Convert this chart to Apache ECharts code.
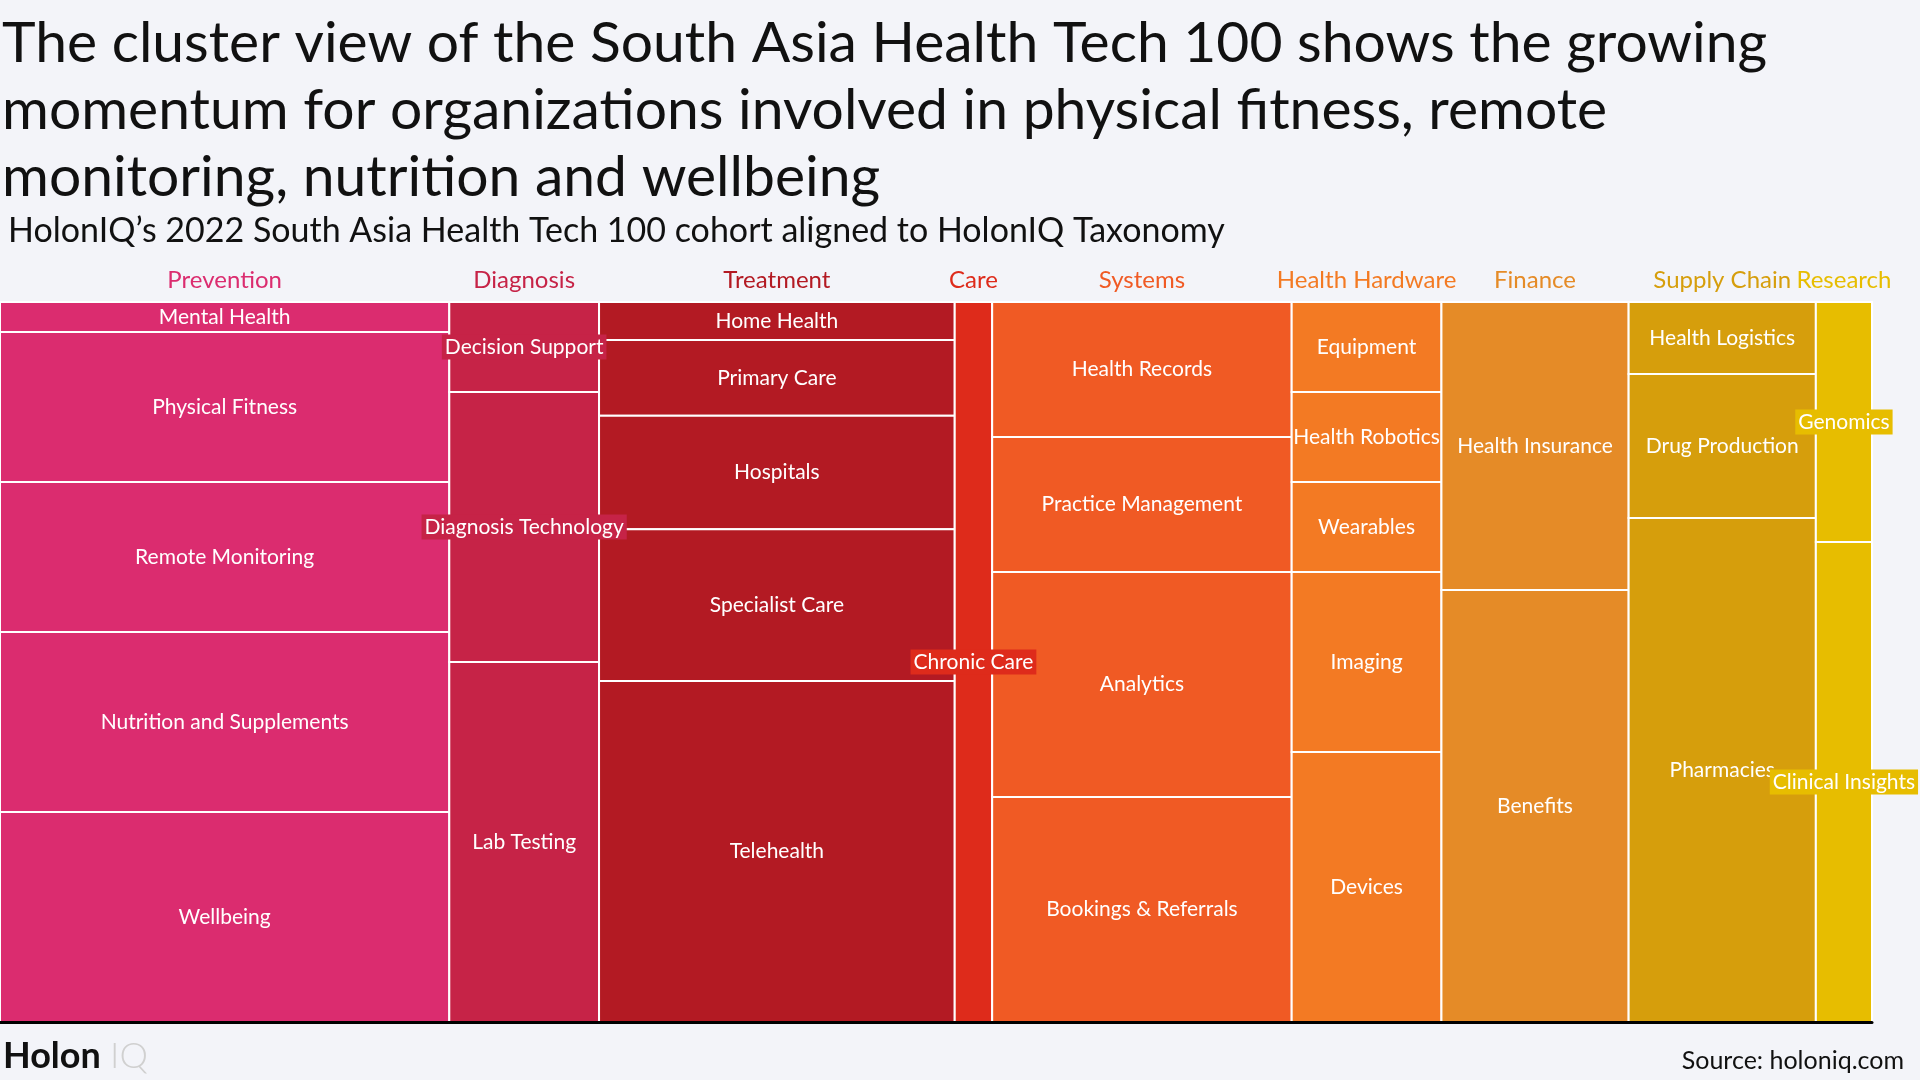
<!DOCTYPE html>
<html>
<head>
<meta charset="utf-8">
<title>South Asia Health Tech 100</title>
<script src="https://cdn.jsdelivr.net/npm/echarts@6/dist/echarts.min.js"></script>
<style>
  html, body { margin: 0; padding: 0; background: #f3f4f9; }
  #chart { width: 1920px; height: 1080px; }
</style>
</head>
<body>
<div id="chart"></div>
<script>
// categories (columns) and their segments, counts = number of companies
const groupNames = ['Prevention', 'Diagnosis', 'Treatment', 'Care', 'Systems', 'Health Hardware', 'Finance', 'Supply Chain', 'Research'];
const segmentNames = [
  ['Mental Health', 'Physical Fitness', 'Remote Monitoring', 'Nutrition and Supplements', 'Wellbeing'],
  ['Decision Support', 'Diagnosis Technology', 'Lab Testing'],
  ['Home Health', 'Primary Care', 'Hospitals', 'Specialist Care', 'Telehealth'],
  ['Chronic Care'],
  ['Health Records', 'Practice Management', 'Analytics', 'Bookings & Referrals'],
  ['Equipment', 'Health Robotics', 'Wearables', 'Imaging', 'Devices'],
  ['Health Insurance', 'Benefits'],
  ['Health Logistics', 'Drug Production', 'Pharmacies'],
  ['Genomics', 'Clinical Insights']
];
const segmentCounts = [
  [1, 5, 5, 6, 7],
  [1, 3, 4],
  [1, 2, 3, 4, 9],
  [2],
  [3, 3, 5, 5],
  [1, 1, 1, 2, 3],
  [4, 6],
  [1, 2, 7],
  [1, 2]
];

const groupColors = ['#db2c6f', '#c62347', '#b31a23', '#de2b1b', '#f05a24', '#f37a23', '#e58b27', '#d69e0c', '#e7bd00'];
const FONT = 'Lato, "Noto Sans", sans-serif';

// build mosaic cells: [x0, x1, y0, y1, group]
const cells = [];
const cellNames = [];
const headers = [];
let xPos = 0;
segmentCounts.forEach((counts, g) => {
  const n = counts.reduce((a, b) => a + b, 0);
  let acc = 0;
  counts.forEach((c, s) => {
    cells.push([xPos, xPos + n, acc / n, (acc + c) / n, g]);
    cellNames.push(segmentNames[g][s]);
    acc += c;
  });
  headers.push([xPos + n / 2, g]);
  xPos += n;
});
const total = xPos;

const measureCtx = document.createElement('canvas').getContext('2d');
measureCtx.font = '21px ' + FONT;

function cellBox(api) {
  const a = api.coord([api.value(0), api.value(2)]);
  const b = api.coord([api.value(1), api.value(3)]);
  return { x: a[0], y: a[1], w: b[0] - a[0], h: b[1] - a[1] };
}

const chart = echarts.init(document.getElementById('chart'));
const option = {
  backgroundColor: '#f3f4f9',
  animation: false,
  title: [
    {
      text: 'The cluster view of the South Asia Health Tech 100 shows the growing\nmomentum for organizations involved in physical fitness, remote\nmonitoring, nutrition and wellbeing',
      left: -3,
      top: 5,
      textStyle: { fontFamily: FONT, fontSize: 57, fontWeight: 'normal', lineHeight: 67, color: '#111' }
    },
    {
      text: 'HolonIQ’s 2022 South Asia Health Tech 100 cohort aligned to HolonIQ Taxonomy',
      left: 3,
      top: 209,
      textStyle: { fontFamily: FONT, fontSize: 34, fontWeight: 'normal', color: '#111' }
    }
  ],
  grid: { left: 0, right: 48, top: 302, bottom: 58 },
  xAxis: {
    type: 'value', min: 0, max: total, z: 5, position: 'bottom',
    axisLine: { show: true, onZero: false, lineStyle: { color: '#000', width: 3 } },
    axisTick: { show: false }, axisLabel: { show: false }, splitLine: { show: false }
  },
  yAxis: {
    type: 'value', min: 0, max: 1, inverse: true,
    axisLine: { show: false }, axisTick: { show: false }, axisLabel: { show: false }, splitLine: { show: false }
  },
  series: [
    {
      type: 'custom',
      name: 'cells',
      data: cells,
      renderItem: function (params, api) {
        const r = cellBox(api);
        return {
          type: 'rect',
          shape: { x: r.x, y: r.y, width: r.w, height: r.h },
          style: { fill: groupColors[api.value(4)], stroke: '#fff', lineWidth: 2 }
        };
      }
    },
    {
      type: 'custom',
      name: 'labels',
      z: 4,
      data: cells,
      renderItem: function (params, api) {
        const r = cellBox(api);
        const name = cellNames[params.dataIndex];
        const tooWide = measureCtx.measureText(name).width > r.w - 2;
        return {
          type: 'text',
          x: r.x + r.w / 2,
          y: r.y + r.h / 2,
          style: {
            text: name,
            fill: '#fff',
            fontFamily: FONT,
            fontSize: 21,
            align: 'center',
            verticalAlign: 'middle',
            backgroundColor: tooWide ? groupColors[api.value(4)] : null,
            padding: tooWide ? [2, 3] : 0
          }
        };
      }
    },
    {
      type: 'custom',
      name: 'headers',
      data: headers,
      renderItem: function (params, api) {
        const p = api.coord([api.value(0), 0]);
        return {
          type: 'text',
          x: p[0],
          y: p[1] - 22,
          style: {
            text: groupNames[api.value(1)],
            fill: groupColors[api.value(1)],
            fontFamily: FONT,
            fontSize: 24,
            align: 'center',
            verticalAlign: 'middle'
          }
        };
      }
    }
  ],
  graphic: [
    { type: 'text', left: 3, top: 1038, style: { text: 'Holon', fontFamily: FONT, fontSize: 36, fontWeight: 'bold', fill: '#111' } },
    { type: 'text', left: 110, top: 1038, style: { text: 'IQ', fontFamily: FONT, fontSize: 36, fontWeight: 300, fill: '#d0d0d0' } },
    { type: 'text', right: 16, top: 1048, style: { text: 'Source: holoniq.com', fontFamily: FONT, fontSize: 25, fill: '#111' } }
  ]
};
chart.setOption(option);
</script>
</body>
</html>
